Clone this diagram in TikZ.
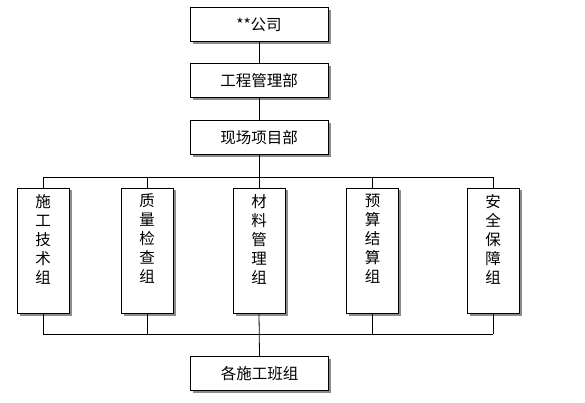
\documentclass[tikz,border=0pt]{standalone}
\usepackage{fontspec}
\setmainfont{Noto Sans CJK SC}
\usetikzlibrary{shadows}
\begin{document}
\begin{tikzpicture}[x=1pt,y=-1pt,
  line width=0.8pt,
  box/.style={draw=black, fill=white, inner sep=0pt, line width=0.8pt,
    drop shadow={shadow xshift=2.5pt, shadow yshift=-2.5pt, fill=black!45, opacity=1}},
  widebox/.style={box, minimum width=138pt, minimum height=33.5pt, font=\fontsize{15.5}{18}\selectfont},
  tallbox/.style={box, minimum width=52pt, minimum height=125pt},
  vtext/.style={anchor=north, align=center, inner sep=0pt, font=\fontsize{15.5}{19}\selectfont},
  conn/.style={draw=black, line width=0.8pt}]
\useasboundingbox (0,0) rectangle (585,403);
\fill[white] (0,0) rectangle (585,403);

\node[widebox] (top) at (259,24.5) {**公司};
\node[widebox] (eng) at (259,80.5) {工程管理部};
\node[widebox] (site) at (259,137.5) {现场项目部};
\node[widebox] (crew) at (259.5,373.5) {各施工班组};

\node[tallbox] (b1) at (43,250.5) {};
\node[tallbox] (b2) at (147,250.5) {};
\node[tallbox] (b3) at (259,250.5) {};
\node[tallbox] (b4) at (372.5,250.5) {};
\node[tallbox] (b5) at (493,250.5) {};

\node[vtext] (t1) at ([yshift=-6pt]b1.north) {施\\工\\技\\术\\组};
\node[vtext] (t2) at ([yshift=-6pt]b2.north) {质\\量\\检\\查\\组};
\node[vtext] (t3) at ([yshift=-6pt]b3.north) {材\\料\\管\\理\\组};
\node[vtext] (t4) at ([yshift=-6pt]b4.north) {预\\算\\结\\算\\组};
\node[vtext] (t5) at ([yshift=-6pt]b5.north) {安\\全\\保\\障\\组};

\coordinate (bus1) at (259,177);
\coordinate (bus2) at (259,334);

\draw[conn] (top.south) -- (eng.north);
\draw[conn] (eng.south) -- (site.north);
\draw[conn] (site.south) -- (b3.north);
\draw[conn] (b1.north |- bus1) -- (b5.north |- bus1);
\foreach \b in {b1,b2,b4,b5} {\draw[conn] (\b.north) -- (\b.north |- bus1);}
\draw[conn] (b1.south |- bus2) -- (b5.south |- bus2);
\foreach \b in {b1,b2,b4,b5} {\draw[conn] (\b.south) -- (\b.south |- bus2);}
\draw[conn] (b3.south) -- (crew.north);
\end{tikzpicture}
\end{document}
